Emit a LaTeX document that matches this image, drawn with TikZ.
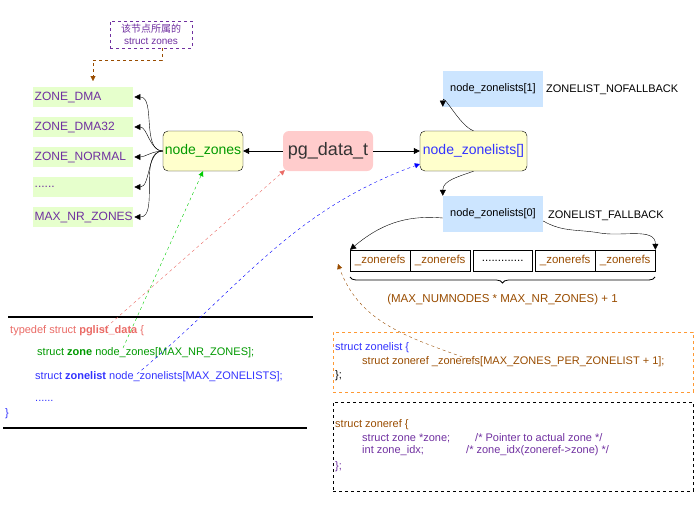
\documentclass[tikz,border=0pt]{standalone}
\usepackage{fontspec}
\setmainfont{Liberation Sans}
\newfontfamily\cjk{Noto Sans CJK SC}
\usetikzlibrary{arrows.meta,decorations.pathreplacing}
\definecolor{zgreen}{HTML}{E6FFCC}
\definecolor{zyel}{HTML}{FFFFCC}
\definecolor{zpink}{HTML}{FFCCCC}
\definecolor{zblue}{HTML}{CCE5FF}
\definecolor{cred}{HTML}{EA6B66}
\definecolor{cgreen}{HTML}{009900}
\definecolor{cblue}{HTML}{3333FF}
\definecolor{cbrown}{HTML}{994C00}
\definecolor{cpurple}{HTML}{7030A0}
\definecolor{corange}{HTML}{FF9933}
\tikzset{
 px/.style={x=1pt,y=-1pt},
 t/.style={font=\fontsize{11}{13}\selectfont},
 zone/.style={font=\fontsize{12}{14}\selectfont,fill=zgreen,minimum width=100pt,minimum height=20pt,anchor=west,text=cpurple,text width=97pt,inner sep=1.5pt,align=left},
 yel/.style={t,fill=zyel,draw,rounded corners=5pt,minimum height=40pt,inner sep=1pt,font=\fontsize{14}{16}\selectfont},
 lst/.style={t,fill=zblue,minimum width=100pt,minimum height=36pt,inner sep=1pt,text=black},
 cell/.style={font=\fontsize{11.5}{13}\selectfont,draw,minimum height=21pt,inner sep=0pt,text=cbrown,anchor=west},
 arr/.style={-{Triangle[length=6pt,width=6pt]},thick},
 code/.style={t,anchor=west,inner sep=0pt}
}
\begin{document}
\begin{tikzpicture}[px]
\useasboundingbox (0,0) rectangle (700,504);
% note
\node[draw=cpurple,dashed,thick,minimum width=82pt,minimum height=27pt,inner sep=1pt,align=center,text=cpurple,font=\fontsize{10}{12}\selectfont] (note) at (151,34.5) {{\cjk 该节点所属的}\\struct zones};
\coordinate (na) at (93,81);
\draw[cbrown,dashed,-{Triangle[length=5pt,width=5pt]}] (162,48) -- (162,60) -- (93,60) -- (na);
% zones
\node[zone] (z1) at (33,97) {ZONE\_DMA};
\node[zone] (z2) at (33,127) {ZONE\_DMA32};
\node[zone] (z3) at (33,157) {ZONE\_NORMAL};
\node[zone] (z4) at (33,187) {......};
\node[zone] (z5) at (33,217) {MAX\_NR\_ZONES};
\node[yel,minimum width=80pt,text=cgreen] (nz) at (203,151) {node\_zones};
\node[fill=zpink,rounded corners=6pt,minimum width=90pt,minimum height=40pt,font=\fontsize{18}{20}\selectfont,text=black!80] (pg) at (328,151) {pg\_data\_t};
\node[yel,minimum width=107pt,text=cblue] (nzl) at (473.5,151) {node\_zonelists[]};
\node[lst] (l1) at (493,88.5) {node\_zonelists[1]};
\node[t,anchor=west,inner sep=0pt] (l1t) at (546,90) {ZONELIST\_NOFALLBACK};
\node[lst] (l0) at (493,214) {node\_zonelists[0]};
\node[t,anchor=west,inner sep=0pt] (l0t) at (548,216) {ZONELIST\_FALLBACK};
% arrows
\draw[arr,semithick] (pg.west) -- (nz.east);
\draw[arr,semithick] (pg.east) -- (nzl.west);
\foreach \z in {z1,z2,z3,z4,z5} \draw[arr,thin] (nz.west) to[out=180,in=0,looseness=0.9] ([xshift=1pt]\z.east);
\draw[arr,thin] (nzl.north) to[out=160,in=90] (l1.south west);
\draw[arr,thin] (nzl.south) to[out=200,in=90] (l0.north west);
% cells
\node[cell,minimum width=60pt] (c1) at (350,260.5) {\_zonerefs};
\node[cell,minimum width=60pt] (c2) at (410,260.5) {\_zonerefs};
\node[cell,minimum width=59pt,text=black] (c3) at (473,260.5) {.............};
\node[cell,minimum width=60pt] (c4) at (535,260.5) {\_zonerefs};
\node[cell,minimum width=60pt] (c5) at (595,260.5) {\_zonerefs};
\draw[arr,thin] ([yshift=-4pt]l0.west) to[out=175,in=40] (c1.north west);
\draw[arr,thin] ([yshift=-7pt]l0.east) to[out=-30,in=170] (600,233) to[out=-10,in=90] (c5.north east);
\draw[decorate,decoration={brace,mirror,amplitude=6pt},thick] (350,277) -- (655,277);
\node[t,text=cbrown,font=\fontsize{11.5}{13}\selectfont] (brl) at (502.5,300) {(MAX\_NUMNODES * MAX\_NR\_ZONES) + 1};
% code left
\draw[very thick] (8,317) -- (313,317);
\draw[very thick] (3,428) -- (307,428);
\node[code,text=cred] (p1) at (10,331) {typedef struct \textbf{pglist\_data} \{};
\node[code,text=cgreen] (p2) at (37,353) {struct \textbf{zone} node\_zones[MAX\_NR\_ZONES];};
\node[code,text=cblue] (p3) at (35,377) {struct \textbf{zonelist} node\_zonelists[MAX\_ZONELISTS];};
\node[code,text=cblue] (p4) at (35,401) {......};
\node[code,text=cblue] (p5) at (5,414) {\}};
\coordinate (rs) at (102,331); \coordinate (gs) at (123,348); \coordinate (bs) at (137,374);
\draw[cred,dashed,-{Triangle[length=5pt,width=5pt]}] (rs) -- ([xshift=2pt,yshift=1pt]pg.south west);
\draw[green!80!black,dashed,-{Triangle[length=5pt,width=5pt]}] (gs) -- (nz.south);
\draw[blue,dashed,-{Triangle[length=5pt,width=5pt]}] (bs) to[out=40,in=200] ([yshift=-13pt]nzl.west);
% right boxes
\node[draw=corange,dashed,minimum width=360pt,minimum height=60pt,anchor=north west] (ob) at (333,332) {};
\node[code,text=cblue] (o1) at (335,348) {struct zonelist \{};
\node[code,text=cbrown] (o2) at (362,362) {struct zoneref \_zonerefs[MAX\_ZONES\_PER\_ZONELIST + 1];};
\node[code] (o3) at (335,376) {\};};
\draw[cbrown,dashed,-{Triangle[length=5pt,width=5pt]}] (468,359) to[out=160,in=-70] (338,264);
\node[draw,dashed,minimum width=360pt,minimum height=89pt,anchor=north west] (kb) at (333,402) {};
\node[code,text=cbrown] (k1) at (335,425) {struct zoneref \{};
\node[code,text=cpurple] (k2) at (362,438) {struct zone *zone;};
\node[code,text=cpurple] (k2b) at (475,438) {/* Pointer to actual zone */};
\node[code,text=cpurple] (k3) at (362,451) {int zone\_idx;};
\node[code,text=cpurple] (k3b) at (466,451) {/* zone\_idx(zoneref->zone) */};
\node[code,text=cpurple] (k4) at (335,467) {\};};
\end{tikzpicture}
\end{document}
